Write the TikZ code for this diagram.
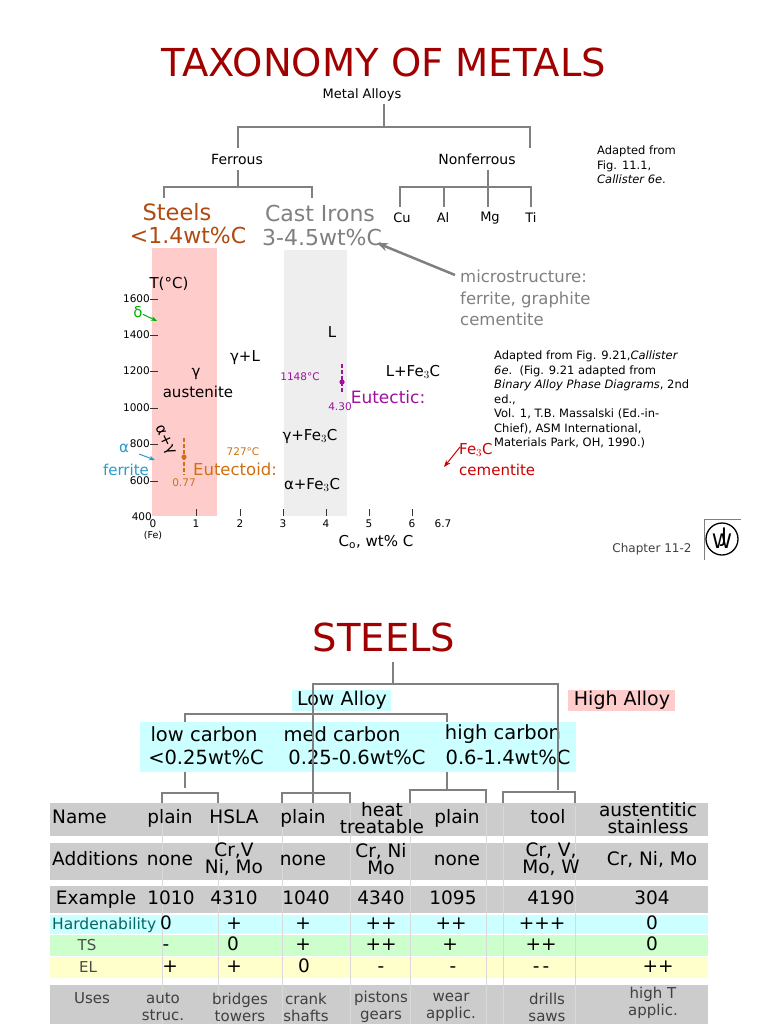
\documentclass[tikz,border=0pt]{standalone}
\usepackage{fontspec}
\setmainfont{DejaVu Sans}
\usetikzlibrary{arrows.meta}
\definecolor{dred}{HTML}{A00000}
\definecolor{brn}{HTML}{B04A10}
\definecolor{pinkb}{HTML}{FFCCCC}
\definecolor{lgray}{HTML}{EEEEEE}
\definecolor{tgray}{HTML}{CCCCCC}
\definecolor{cy}{HTML}{CCFFFF}
\definecolor{gr}{HTML}{CCFFCC}
\definecolor{yl}{HTML}{FFFFCC}
\definecolor{pur}{HTML}{A010A0}
\definecolor{org}{HTML}{D07010}
\definecolor{lnc}{HTML}{808080}
\tikzset{
 tree/.style={draw=lnc,line width=1.8pt},
 fs/.style={font=\fontsize{#1}{#1}\selectfont,inner sep=0pt},
 cell/.style={fs=18.5,align=center},
 one/.style={cell,text height=13pt,text depth=4pt},
}
\begin{document}
\begin{tikzpicture}[x=1pt,y=-1pt]
\useasboundingbox (0,0) rectangle (768,1024);
\fill[white] (0,0) rectangle (768,1024);
% ---------- top ----------
\node[fs=38.5,text=dred] (t1) at (384,62) {TAXONOMY OF METALS};
\node[fs=13] (ma) at (362,95) {Metal Alloys};
\draw[tree] (384,104) -- (384,127) (238,148) -- (238,127) -- (530,127) -- (530,148);
\node[fs=14] (fe) at (237,159) {Ferrous};
\node[fs=14] (nf) at (477,159) {Nonferrous};
\draw[tree] (238,170) -- (238,187) (164,198) -- (164,187) -- (312,187) -- (312,198);
\draw[tree] (488,170) -- (488,187) (400,207) -- (400,187) -- (531,187) -- (531,207)
  (444,187) -- (444,207) (488,187)--(488,207);
\node[fs=13] (cu) at (402,218) {Cu};
\node[fs=13] (al) at (443,218) {Al};
\node[fs=13] (mg) at (490,218) {Mg};
\node[fs=13] (ti) at (531,218) {Ti};
\node[fs=22.5,text=brn] (st) at (177,212) {Steels};
\node[fs=22,text=brn] (st2) at (188,235) {<1.4wt\%C};
\node[fs=22,text=gray] (ci) at (320,213) {Cast Irons};
\node[fs=22,text=gray] (ci2) at (322,237) {3-4.5wt\%C};
\node[fs=16.5,text=gray,align=left,anchor=north west,text depth=0pt] (mic) at (460,270)
  {microstructure:\\[5pt]ferrite, graphite\\[5pt]cementite};
\coordinate (arrs) at (455,275);
\coordinate (arre) at (377,243);
\draw[draw=gray,line width=2.5pt,-{Stealth[length=11pt]}] (arrs) -- (arre);
\node[fs=11.5,align=left,anchor=north west] (ad1) at (597,146)
  {Adapted from\\[3pt]Fig. 11.1,\\[3pt]\textit{Callister 6e}.};
% ---------- phase diagram ----------
\fill[pinkb] (152,248) rectangle (217,516);
\fill[lgray] (284,250) rectangle (347,516);
\foreach \v/\y in {1600/299,1400/335,1200/371,1000/408,800/444,600/481}{
  \node[fs=10.5,anchor=east] at (150,\y) {\v};
  \draw[black!80,line width=0.8pt] (150,\y) -- (158,\y);}
\node[fs=10.5,anchor=east] at (152,517) {400};
\foreach \v/\x in {1/196,2/240,3/283,4/326,5/369,6/412}{
  \node[fs=10.5] at (\x,524) {\v};
  \draw[black!80,line width=0.8pt] (\x,509) -- (\x,516);}
\node[fs=10.5] at (153,524) {0};
\node[fs=10.5] at (443,524) {6.7};
\node[fs=9.5] (fe0) at (153,536) {(Fe)};
\node[fs=15] (co) at (376,542) {C$_{\mathrm{o}}$, wt\% C};
\node[fs=15] (tc) at (169,284) {T(°C)};
\node[fs=15,text=green!70!black] (dl) at (138,312) {δ};
\draw[green!70!black,line width=1pt,-{Stealth[length=6pt]}] (dl) -- (157,321);
\node[fs=15] (L) at (332,332) {L};
\node[fs=15] (gl) at (245,358) {γ+L};
\node[fs=15] (g) at (196,374) {γ};
\node[fs=15] (aus) at (198,392) {austenite};
\node[fs=15] (lfe) at (413,372) {L+Fe$_3$C};
\node[fs=10.5,text=pur] (t1148) at (300,377) {1148°C};
\draw[pur,line width=1.5pt,dash pattern=on 4pt off 2pt] (342,364) -- (342,393);
\fill[pur] (342,382) circle (2.6pt);
\node[fs=17,text=pur] (eut) at (388,397) {Eutectic:};
\node[fs=10.5,text=pur] (p43) at (340,407) {4.30};
\node[fs=15] (gfe) at (310,436) {γ+Fe$_3$C};
\node[fs=15,rotate=-65] (ag) at (165,440) {α+γ};
\node[fs=15,text=cyan!80!black] (alp) at (124,448) {α};
\draw[cyan!80!black,line width=1pt,-{Stealth[length=6pt]}] (139,454) -- (155,460);
\node[fs=15,text=cyan!80!black] (fer) at (126,470) {ferrite};
\node[fs=10.5,text=org] (t727) at (243,452) {727°C};
\draw[org,line width=1.5pt,dash pattern=on 4pt off 2pt] (184,438) -- (184,475);
\fill[org] (184,457) circle (2.6pt);
\node[fs=16.5,text=org] (eud) at (235,469) {Eutectoid:};
\node[fs=10.5,text=org] (p77) at (184,483) {0.77};
\node[fs=15] (afe) at (312,485) {α+Fe$_3$C};
\node[fs=15,text=red!80!black,anchor=west] (f3c) at (459,450) {Fe$_3$C};
\node[fs=15,text=red!80!black,anchor=west] (cem) at (459,470) {cementite};
\draw[red!80!black,line width=1pt,-{Stealth[length=7pt]}] (460,447) -- (444,467);
\node[fs=11.5,align=left,anchor=north west] (ad2) at (494,351)
  {Adapted from Fig. 9.21,\textit{Callister}\\[3pt]\textit{6e}.\ \ (Fig. 9.21 adapted from\\[3pt]\textit{Binary Alloy Phase Diagrams}, 2nd\\[3pt]ed.,\\[3pt]Vol. 1, T.B. Massalski (Ed.-in-\\[3pt]Chief), ASM International,\\[3pt]Materials Park, OH, 1990.)};
\node[fs=12,text=black!75] (chap) at (652,549) {Chapter 11-2};
\draw[black!50,line width=0.5pt] (704,519) -- (704,560) (704,519) -- (741,519);
\draw[line width=1.3pt] (722,539) circle (16pt);
\node[fs=20] (wj) at (722,541) {W};
\node[fs=20] (wj2) at (724,537) {J};
% ---------- STEELS ----------
\node[fs=38.5,text=dred] (t2) at (384,637) {STEELS};
\fill[cy] (292,690) rectangle (391,711);
\fill[pinkb] (568,690) rectangle (675,711);
\node[fs=19] (la) at (342,700) {Low Alloy};
\node[fs=19] (ha) at (622,700) {High Alloy};
\fill[cy] (140,722) rectangle (576,772);
\node[fs=19.5] (lc) at (204,734) {low carbon};
\node[fs=19.5] (lc2) at (206,757) {<0.25wt\%C};
\node[fs=19.5] (mc) at (342,734) {med carbon};
\node[fs=19.5] (mc2) at (357,757) {0.25-0.6wt\%C};
\node[fs=19.5] (hc) at (503,734) {high carbon};
\node[fs=19.5] (hc2) at (508,757) {0.6-1.4wt\%C};
\draw[tree] (393,662) -- (393,684) (313,806) -- (313,684) -- (558,684) -- (558,790);
\draw[tree] (185,722) -- (185,714) -- (447,714) -- (447,722);
\draw[tree] (185,772) -- (185,788) (162,806) -- (162,793) -- (218,793) -- (218,806);
\draw[tree] (282,806) -- (282,793) -- (350,793) -- (350,806);
\draw[tree] (447,772) -- (447,789) (410,806) -- (410,790) -- (486,790) -- (486,806);
\draw[tree] (503,806) -- (503,792) -- (575,792) -- (575,806);
% table rows
\fill[tgray] (50,803) rectangle (708,836);
\fill[tgray] (50,843) rectangle (708,880);
\fill[tgray] (50,886) rectangle (708,913);
\fill[cy] (50,915) rectangle (708,934);
\fill[gr] (50,935) rectangle (708,956);
\fill[yl] (50,957) rectangle (708,978);
\fill[tgray] (50,985) rectangle (708,1024);
\foreach \x in {162,218,282,350,410,486,503,575}{
  \draw[black!15,line width=0.5pt] (\x,806) -- (\x,1024);}
% Name row
\node[one,anchor=west] (rn) at (52,819) {Name};
\node[one] at (170,819) {plain};
\node[one] at (234,819) {HSLA};
\node[one] at (303,819) {plain};
\node[cell] at (382,818) {heat\\[-2pt]treatable};
\node[one] at (457,819) {plain};
\node[one] at (548,819) {tool};
\node[cell] at (648,818) {austentitic\\[-2pt]stainless};
% Additions
\node[one,anchor=west] (radd) at (52,861) {Additions};
\node[one] at (170,861) {none};
\node[cell] at (234,859) {Cr,V\\[-2pt]Ni, Mo};
\node[one] at (303,861) {none};
\node[cell] at (381,859) {Cr, Ni\\[-2pt]Mo};
\node[one] at (457,861) {none};
\node[cell] at (551,859) {Cr, V,\\[-2pt]Mo, W};
\node[one] at (652,861) {Cr, Ni, Mo};
% Example
\node[one] (rex) at (96,900) {Example};
\foreach \t/\x in {1010/171,4310/234,1040/306,4340/381,1095/453,4190/551,304/652}{
  \node[one] at (\x,900) {\t};}
% Hardenability
\node[fs=15.5,text=teal!80!black,anchor=west,text height=11pt,text depth=3pt] (rh) at (52,925) {Hardenability};
\foreach \t/\x in {0/166,+/234,+/303,++/381,++/451,+++/542,0/652}{
  \node[one] at (\x,925) {\t};}
\node[fs=15,text=black!70,text height=11pt,text depth=3pt] (rts) at (87,946) {TS};
\foreach \t/\x in {-/166,0/233,+/303,++/381,+/450,++/541,0/652}{
  \node[one] at (\x,946) {\t};}
\node[fs=15,text=black!70,text height=11pt,text depth=3pt] (rel) at (88,968) {EL};
\foreach \t/\x in {+/170,+/234,0/304,-/381,-/453,{-\,-}/541,++/658}{
  \node[one] at (\x,968) {\t};}
% Uses
\node[fs=15,text=black!75] (ru) at (92,998) {Uses};
\foreach \a/\b/\x in {auto/struc./163,bridges/towers/240,crank/shafts/306,pistons/gears/381,wear/applic./451,drills/saws/547}{
  \node[fs=15,text=black!75,align=center] at (\x,1007) {\a\\[2pt]\b};}
\node[fs=15,text=black!75,align=center] at (653,1003) {high T\\[2pt]applic.};
\end{tikzpicture}
\end{document}
